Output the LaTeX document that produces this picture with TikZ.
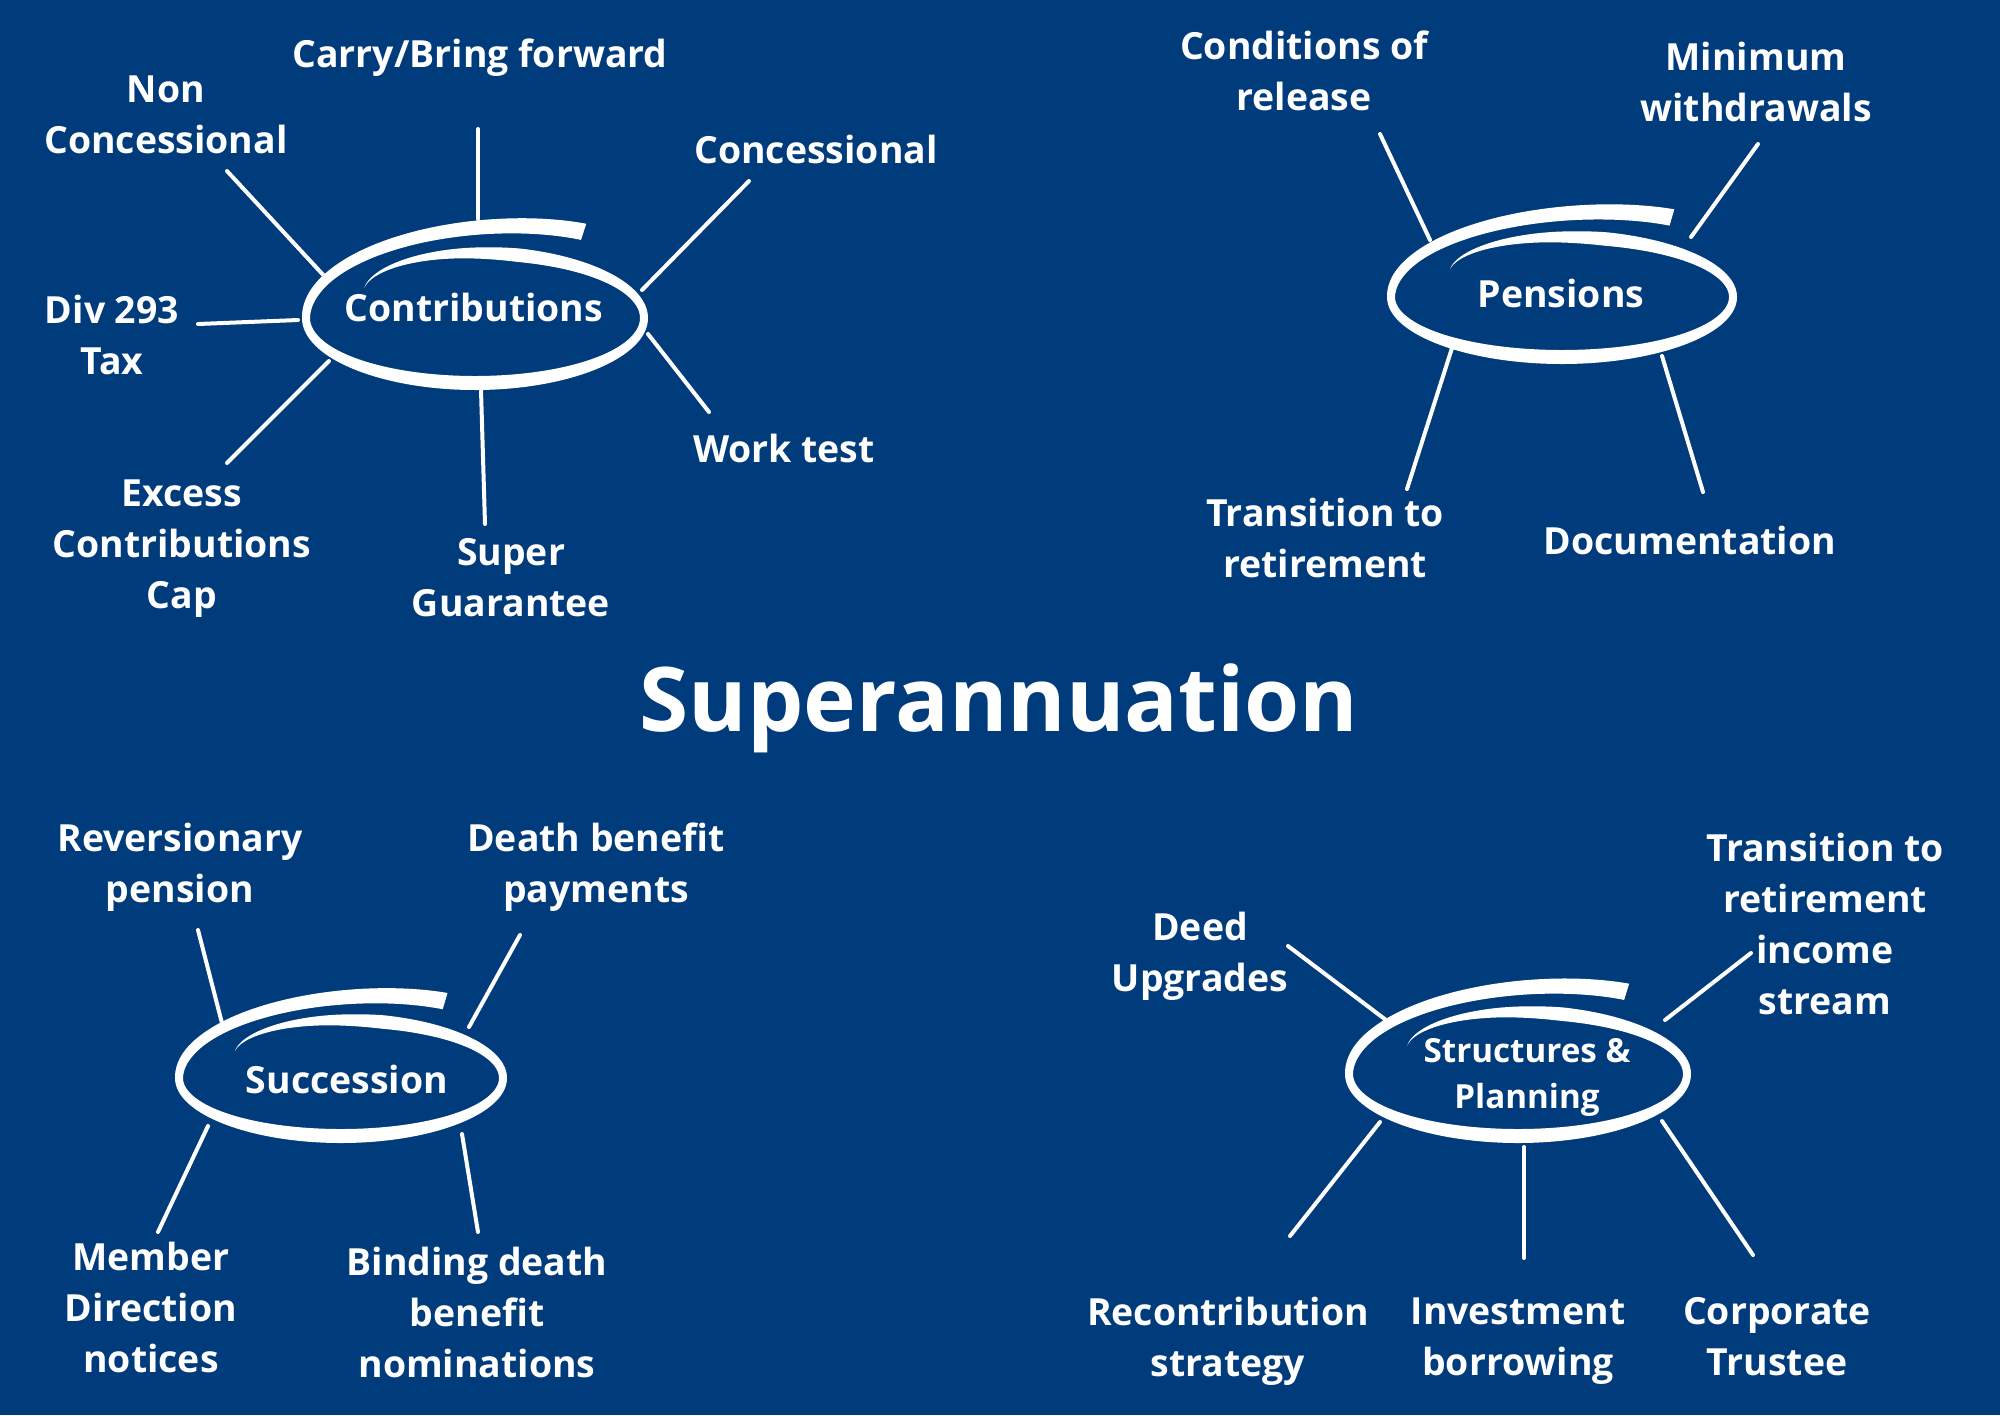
\documentclass[tikz,border=0pt]{standalone}
\usepackage{fontspec}
\setmainfont{Open Sans}
\definecolor{bg}{RGB}{0,59,123}
\newcommand{\handloop}[5]{% name, cx, cy, rx, ry
  \begin{scope}[shift={(#2,#3)}]
    \def\rx{#4}\def\ry{#5}
    \fill[white] plot[domain=215:670,samples=240,variable=\t]
        ({hx(\t)+0.5*hw(\t)*hnx(\t)},{hy(\t)+0.5*hw(\t)*hny(\t)})
      -- plot[domain=670:215,samples=240,variable=\t]
        ({hx(\t)-0.5*hw(\t)*hnx(\t)},{hy(\t)-0.5*hw(\t)*hny(\t)}) -- cycle;
    \coordinate (#1) at (0,0);
  \end{scope}}
\begin{document}
\begin{tikzpicture}[x=0.5pt,y=-0.5pt,
  lbl/.style={text=white,font=\fontsize{18.7}{25.5}\selectfont\bfseries,align=center,inner sep=0pt},
  hub/.style={lbl},
  hubsmall/.style={text=white,font=\fontsize{16.6}{23}\selectfont\bfseries,align=center,inner sep=0pt},
  titlestyle/.style={text=white,font=\fontsize{44.6}{54}\selectfont\bfseries,inner sep=0pt},
  conn/.style={draw=white,line width=2pt,line cap=round},
  declare function={
    hk(\t)=1-0.2*(max(0,270-\t)/55)*(max(0,270-\t)/55);
    hdy(\t)=-0.56*\ry*(max(0,\t-540)/130);
    hw(\t)=min(1,(\t-215)/70)*(8+6*sin(\t)*sin(\t)*(1-min(1,max(0,\t-540)/30)))+9*(max(0,\t-540)/130);
    hx(\t)=\rx*hk(\t)*cos(\t);
    hy(\t)=\ry*hk(\t)*sin(\t)+hdy(\t);
    hnx(\t)=(\ry/100*cos(\t))/veclen(\ry/100*cos(\t),\rx/100*sin(\t));
    hny(\t)=(\rx/100*sin(\t))/veclen(\ry/100*cos(\t),\rx/100*sin(\t));
  }]
\fill[bg] (0,0) rectangle (2000,1415);
\useasboundingbox (0,0) rectangle (2000,1415);

% hand-drawn loops
\handloop{eC}{475}{318}{169}{65}
\handloop{eP}{1562}{297}{171}{60}
\handloop{eS}{341}{1078}{162}{58}
\handloop{eT}{1518}{1074}{169}{62}

% hubs
\node[hub] (contrib) at (474,307) {Contributions};
\node[hub] (pens) at (1561,293) {Pensions};
\node[hub] (succ) at (347,1079) {Succession};
\node[hubsmall] (struct) at (1527,1077) {Structures \&\\Planning};

\node[titlestyle] (title) at (999,708) {Superannuation};

% Contributions labels
\node[lbl] (carry) at (480,58) {Carry/Bring forward};
\node[lbl] (noncon) at (166,115) {Non\\Concessional};
\node[lbl] (conc) at (816,149) {Concessional};
\node[lbl] (div) at (112,335) {Div 293\\Tax};
\node[lbl] (work) at (784,448) {Work test};
\node[lbl] (excess) at (182,549) {Excess\\Contributions\\Cap};
\node[lbl] (sg) at (511,578) {Super\\Guarantee};

% Pensions labels
\node[lbl] (cond) at (1304,71) {Conditions of\\release};
\node[lbl] (minw) at (1756,82) {Minimum\\withdrawals};
\node[lbl] (ttr) at (1325,538) {Transition to\\retirement};
\node[lbl] (doc) at (1690,540) {Documentation};

% Succession labels
\node[lbl] (rev) at (180,867) {Reversionary\\pension};
\node[lbl] (dbp) at (596,867) {Death benefit\\payments};
\node[lbl] (mdn) at (151,1307) {Member\\Direction\\notices};
\node[lbl] (bdbn) at (477,1312) {Binding death\\benefit\\nominations};

% Structures labels
\node[lbl] (deed) at (1200,956) {Deed\\Upgrades};
\node[lbl] (ttris) at (1825,924) {Transition to\\retirement\\income\\stream};
\node[lbl] (recon) at (1228,1341) {Recontribution\\strategy};
\node[lbl] (inv) at (1518,1341) {Investment\\borrowing};
\node[lbl] (corp) at (1777,1337) {Corporate\\Trustee};

% connector end points
\coordinate (c1a) at (478,129);  \coordinate (c1b) at (478,219);
\coordinate (c2a) at (227,171);  \coordinate (c2b) at (327,279);
\coordinate (c3a) at (749,181);  \coordinate (c3b) at (642,290);
\coordinate (c4a) at (198,324);  \coordinate (c4b) at (298,320);
\coordinate (c5a) at (648,334);  \coordinate (c5b) at (709,412);
\coordinate (c6a) at (227,463);  \coordinate (c6b) at (329,361);
\coordinate (c7a) at (481,390);  \coordinate (c7b) at (485,524);

\coordinate (p1a) at (1380,134); \coordinate (p1b) at (1430,240);
\coordinate (p2a) at (1758,144); \coordinate (p2b) at (1691,237);
\coordinate (p3a) at (1452,348); \coordinate (p3b) at (1407,489);
\coordinate (p4a) at (1662,356); \coordinate (p4b) at (1703,492);

\coordinate (s1a) at (198,930);  \coordinate (s1b) at (223,1027);
\coordinate (s2a) at (520,935);  \coordinate (s2b) at (469,1027);
\coordinate (s3a) at (208,1126); \coordinate (s3b) at (158,1232);
\coordinate (s4a) at (462,1134); \coordinate (s4b) at (478,1232);

\coordinate (t1a) at (1288,946); \coordinate (t1b) at (1386,1020);
\coordinate (t2a) at (1751,953); \coordinate (t2b) at (1665,1020);
\coordinate (t3a) at (1380,1122); \coordinate (t3b) at (1290,1236);
\coordinate (t4a) at (1524,1147); \coordinate (t4b) at (1524,1258);
\coordinate (t5a) at (1662,1121); \coordinate (t5b) at (1753,1255);

\foreach \a in {c1,c2,c3,c4,c5,c6,c7,p1,p2,p3,p4,s1,s2,s3,s4,t1,t2,t3,t4,t5}
  \draw[conn] (\a a) -- (\a b);
\end{tikzpicture}
\end{document}
